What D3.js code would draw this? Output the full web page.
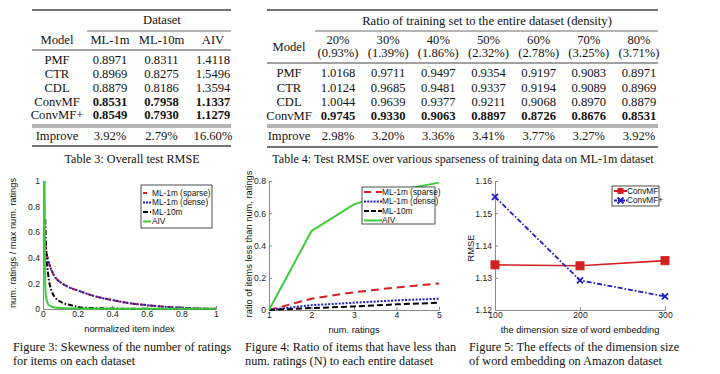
<!DOCTYPE html>
<html>
<head>
<meta charset="utf-8">
<script src="https://cdn.jsdelivr.net/npm/d3@7"></script>
<style>
  body { margin: 0; background: #fff; }
  svg { display: block; }
</style>
</head>
<body>
<div id="pg"></div>
<script>
"use strict"

// ---- table 3 data
var t3Models = ["PMF", "CTR", "CDL", "ConvMF", "ConvMF+"]
var t3Cols = ["ML-1m", "ML-10m", "AIV"]
var t3Values = [
    [0.8971, 0.8311, 1.4118],
    [0.8969, 0.8275, 1.5496],
    [0.8879, 0.8186, 1.3594],
    [0.8531, 0.7958, 1.1337],
    [0.8549, 0.7930, 1.1279]
]
var t3Improve = ["3.92%", "2.79%", "16.60%"]
var t3Bold = ["ConvMF", "ConvMF+"]

// ---- table 4 data
var t4Models = ["PMF", "CTR", "CDL", "ConvMF"]
var t4Ratio = ["20%", "30%", "40%", "50%", "60%", "70%", "80%"]
var t4Density = ["(0.93%)", "(1.39%)", "(1.86%)", "(2.32%)", "(2.78%)", "(3.25%)", "(3.71%)"]
var t4Values = [
    [1.0168, 0.9711, 0.9497, 0.9354, 0.9197, 0.9083, 0.8971],
    [1.0124, 0.9685, 0.9481, 0.9337, 0.9194, 0.9089, 0.8969],
    [1.0044, 0.9639, 0.9377, 0.9211, 0.9068, 0.8970, 0.8879],
    [0.9745, 0.9330, 0.9063, 0.8897, 0.8726, 0.8676, 0.8531]
]
var t4Improve = ["2.98%", "3.20%", "3.36%", "3.41%", "3.77%", "3.27%", "3.92%"]
var t4Bold = ["ConvMF"]

// ---- figure 3 data (normalized item index -> num. ratings / max)
var f3DenseX = [0.013, 0.02, 0.03, 0.05, 0.075, 0.1, 0.15, 0.2, 0.3, 0.4, 0.5, 0.6, 0.7, 0.8, 0.9, 1]
var f3DenseY = [0.51, 0.44, 0.38, 0.30, 0.24, 0.21, 0.17, 0.145, 0.10, 0.07, 0.045, 0.03, 0.018, 0.01, 0.004, 0.001]
var f3SparseX = f3DenseX
var f3SparseY = f3DenseY
var f3Ml10mX = [0.013, 0.019, 0.029, 0.048, 0.087, 0.164, 0.24, 0.4, 0.6, 1]
var f3Ml10mY = [0.70, 0.435, 0.28, 0.147, 0.068, 0.029, 0.01, 0.004, 0.001, 0]
var f3AivX = [0.009, 0.011, 0.013, 0.017, 0.025, 0.04, 0.08, 0.2, 0.5, 1]
var f3AivY = [1, 0.5, 0.2, 0.1, 0.05, 0.025, 0.01, 0.004, 0.002, 0.001]

// ---- figure 4 data
var f4X = [1, 2, 3, 4, 5]
var f4Sparse = [0, 0.07, 0.11, 0.14, 0.165]
var f4Dense = [0, 0.03, 0.045, 0.06, 0.07]
var f4Ml10m = [0, 0.012, 0.022, 0.035, 0.045]
var f4Aiv = [0, 0.49, 0.655, 0.74, 0.79]

// ---- figure 5 data
var f5X = [100, 200, 300]
var f5ConvMF = [1.1340, 1.1337, 1.1353]
var f5ConvMFplus = [1.1551, 1.1292, 1.1242]

var serif = "Liberation Serif, Times New Roman, serif"
var sans = "Liberation Sans, Arial, sans-serif"
var red = "#d42020", blue = "#1c1cc8", green = "#3ccc3c", black = "#000"

var svg = d3.select("#pg").append("svg")
    .attr("width", 720)
    .attr("height", 374)
svg.append("rect").attr("width", 720).attr("height", 374).attr("fill", "#fff")

function txt(g, x, y, s, opts) {
    opts = opts || {}
    return g.append("text")
        .attr("x", x).attr("y", y).attr("dy", "0.35em")
        .attr("text-anchor", opts.anchor || "middle")
        .attr("font-family", opts.family || serif)
        .attr("font-size", opts.size || 12.6)
        .attr("font-weight", opts.bold ? "bold" : "normal")
        .attr("fill", "#111")
        .text(s)
}

function rule(g, x0, x1, y, w) {
    g.append("line").attr("x1", x0).attr("x2", x1).attr("y1", y).attr("y2", y)
        .attr("stroke", "#444").attr("stroke-width", w || 1)
}

var fmt4 = d3.format(".4f")

/** Table 3 */
var t3 = svg.append("g")
var t3x = d3.scalePoint().domain(t3Cols).range([110, 213])
var t3y = d3.scalePoint().domain(t3Models).range([60, 115])
rule(t3, 32, 231, 10, 1.3)
txt(t3, 162, 20, "Dataset")
rule(t3, 87, 231, 31, 0.8)
txt(t3, 57, 40, "Model")
t3Cols.forEach(function (c) { txt(t3, t3x(c), 40, c) })
rule(t3, 32, 231, 50, 1.2)
t3Models.forEach(function (m, i) {
    txt(t3, 57, t3y(m), m)
    t3Cols.forEach(function (c, j) {
        txt(t3, t3x(c), t3y(m), fmt4(t3Values[i][j]), { bold: t3Bold.indexOf(m) >= 0 })
    })
})
rule(t3, 32, 231, 125, 0.8)
rule(t3, 32, 231, 127, 0.8)
txt(t3, 57, 136, "Improve")
t3Cols.forEach(function (c, j) { txt(t3, t3x(c), 136, t3Improve[j]) })
rule(t3, 32, 231, 146, 1.3)
txt(t3, 132, 159, "Table 3: Overall test RMSE", { size: 12.2 })

/** Table 4 */
var t4 = svg.append("g")
var t4x = d3.scalePoint().domain(t4Ratio).range([338, 639])
var t4y = d3.scalePoint().domain(t4Models).range([73, 116])
rule(t4, 267, 658, 10, 1.3)
txt(t4, 487, 21, "Ratio of training set to the entire dataset (density)")
rule(t4, 315, 658, 31, 0.8)
txt(t4, 289, 47, "Model")
t4Ratio.forEach(function (r, j) {
    txt(t4, t4x(r), 40, r)
    txt(t4, t4x(r), 53, t4Density[j])
})
rule(t4, 267, 658, 63, 1.2)
t4Models.forEach(function (m, i) {
    txt(t4, 289, t4y(m), m)
    t4Ratio.forEach(function (r, j) {
        txt(t4, t4x(r), t4y(m), fmt4(t4Values[i][j]), { bold: t4Bold.indexOf(m) >= 0 })
    })
})
rule(t4, 267, 658, 125, 0.8)
rule(t4, 267, 658, 127, 0.8)
txt(t4, 289, 136, "Improve")
t4Ratio.forEach(function (r, j) { txt(t4, t4x(r), 136, t4Improve[j]) })
rule(t4, 267, 658, 147, 1.3)
txt(t4, 463, 159, "Table 4: Test RMSE over various sparseness of training data on ML-1m dataset", { size: 12 })

/** charts */
function styleAxis(g) {
    g.select(".domain").attr("stroke", "#888").attr("stroke-width", 1)
    g.selectAll(".tick line").attr("stroke", "#888")
    g.selectAll(".tick text").attr("fill", "#222")
        .attr("font-family", sans).attr("font-size", 8.6)
}

function makeChart(c) {
    var g = svg.append("g")
    var x = d3.scaleLinear().domain(c.xdom).range([c.x0, c.x1])
    var y = d3.scaleLinear().domain(c.ydom).range([c.y0, c.y1])
    g.append("g").attr("transform", "translate(0," + c.y0 + ")")
        .call(d3.axisBottom(x).tickValues(c.xticks).tickFormat(c.xfmt)
            .tickSizeInner(-3).tickSizeOuter(0).tickPadding(2))
        .call(styleAxis)
    g.append("g").attr("transform", "translate(" + c.x0 + ",0)")
        .call(d3.axisLeft(y).tickValues(c.yticks).tickFormat(c.yfmt)
            .tickSizeInner(-3).tickSizeOuter(0).tickPadding(3))
        .call(styleAxis)
    txt(g, (c.x0 + c.x1) / 2, c.y0 + 20, c.xlabel, { family: sans, size: 9.3 })
    txt(g, 0, 0, c.ylabel, { family: sans, size: 9.3 })
        .attr("transform", "translate(" + c.ylx + "," + c.yly + ") rotate(-90)")
    c.caption.forEach(function (s, i) {
        txt(g, c.capx, 347 + i * 14, s, { anchor: "start", size: 12.3 })
    })
    return { g: g, x: x, y: y }
}

function drawLine(ch, xs, ys, color, dash, width, curve) {
    var line = d3.line()
        .x(function (d) { return ch.x(d[0]) })
        .y(function (d) { return ch.y(d[1]) })
        .curve(curve || d3.curveLinear)
    ch.g.append("path")
        .attr("d", line(d3.zip(xs, ys)))
        .attr("fill", "none")
        .attr("stroke", color)
        .attr("stroke-width", width || 2)
        .attr("stroke-dasharray", dash || null)
}

function legend(ch, box, items, textX, rows, sx0, sx1) {
    ch.g.append("rect").attr("x", box[0]).attr("y", box[1])
        .attr("width", box[2] - box[0]).attr("height", box[3] - box[1])
        .attr("fill", "#fff").attr("stroke", "#222").attr("stroke-width", 0.8)
    items.forEach(function (it, i) {
        ch.g.append("line").attr("x1", sx0).attr("x2", sx1)
            .attr("y1", rows[i]).attr("y2", rows[i])
            .attr("stroke", it.color).attr("stroke-width", 2)
            .attr("stroke-dasharray", it.dash || null)
        if (it.marker) it.marker(ch.g, (sx0 + sx1) / 2, rows[i])
        txt(ch.g, textX, rows[i], it.label, { anchor: "start", family: sans, size: 8.3 })
    })
}

var fmt1 = function (d) { return String(+d.toFixed(1)) }

// Figure 3
var c3 = makeChart({
    x0: 43, x1: 216, y0: 309, y1: 181,
    xdom: [0, 1], ydom: [0, 1],
    xticks: [0, 0.2, 0.4, 0.6, 0.8, 1], yticks: [0, 0.2, 0.4, 0.6, 0.8, 1],
    xfmt: fmt1, yfmt: fmt1,
    xlabel: "normalized item index", ylabel: "num. ratings / max num. ratings",
    ylx: 13, yly: 243,
    caption: ["Figure 3: Skewness of the number of ratings", "for items on each dataset"], capx: 13
})
drawLine(c3, f3SparseX, f3SparseY, red, "6,3", 2, d3.curveMonotoneX)
drawLine(c3, f3DenseX, f3DenseY, blue, "2,1.5", 2, d3.curveMonotoneX)
drawLine(c3, f3Ml10mX, f3Ml10mY, black, "5,2,1.5,2", 2, d3.curveMonotoneX)
drawLine(c3, f3AivX, f3AivY, green, null, 2, d3.curveMonotoneX)
legend(c3, [141, 185, 212, 228], [
    { label: "ML-1m (sparse)", color: red, dash: "4,10" },
    { label: "ML-1m (dense)", color: blue, dash: "2,1" },
    { label: "ML-10m", color: black, dash: "5,2" },
    { label: "AIV", color: green }
], 152, [193, 202.5, 212, 221.5], 143, 151)

// Figure 4
var c4 = makeChart({
    x0: 269, x1: 439, y0: 310, y1: 181,
    xdom: [1, 5], ydom: [0, 0.8],
    xticks: [1, 2, 3, 4, 5], yticks: [0, 0.2, 0.4, 0.6, 0.8],
    xfmt: d3.format("d"), yfmt: fmt1,
    xlabel: "num. ratings", ylabel: "ratio of items less than num. ratings",
    ylx: 249, yly: 244,
    caption: ["Figure 4: Ratio of items that have less than", "num. ratings (N) to each entire dataset"], capx: 245
})
drawLine(c4, f4X, f4Sparse, red, "8,5", 2)
drawLine(c4, f4X, f4Dense, blue, "2,1.5", 2)
drawLine(c4, f4X, f4Ml10m, black, "6,3", 2)
drawLine(c4, f4X, f4Aiv, green, null, 2)
legend(c4, [362, 187, 435, 224], [
    { label: "ML-1m (sparse)", color: red, dash: "7,5" },
    { label: "ML-1m (dense)", color: blue, dash: "2,1.2" },
    { label: "ML-10m", color: black, dash: "5,2" },
    { label: "AIV", color: green }
], 382, [192, 201.5, 211, 220.5], 364, 382)

// Figure 5
var c5 = makeChart({
    x0: 495, x1: 665, y0: 310, y1: 181,
    xdom: [100, 300], ydom: [1.12, 1.16],
    xticks: f5X, yticks: [1.12, 1.13, 1.14, 1.15, 1.16],
    xfmt: d3.format("d"), yfmt: d3.format(".2f"),
    xlabel: "the dimension size of word embedding", ylabel: "RMSE",
    ylx: 471, yly: 248,
    caption: ["Figure 5: The effects of the dimension size", "of word embedding on Amazon dataset"], capx: 469
})

function square(g, cx, cy) {
    g.append("rect").attr("x", cx - 4).attr("y", cy - 4).attr("width", 8).attr("height", 8)
        .attr("fill", red).attr("stroke", red).attr("stroke-width", 1)
}
function cross(g, cx, cy) {
    g.append("path")
        .attr("d", "M" + (cx - 3) + "," + (cy - 3) + "L" + (cx + 3) + "," + (cy + 3) +
            "M" + (cx - 3) + "," + (cy + 3) + "L" + (cx + 3) + "," + (cy - 3))
        .attr("stroke", blue).attr("stroke-width", 1.8).attr("fill", "none")
}

drawLine(c5, f5X, f5ConvMF, red, null, 1.6)
drawLine(c5, f5X, f5ConvMFplus, blue, "5,2,1.5,2", 1.8)
f5X.forEach(function (v, i) {
    square(c5.g, c5.x(v), c5.y(f5ConvMF[i]))
    cross(c5.g, c5.x(v), c5.y(f5ConvMFplus[i]))
})
legend(c5, [612, 186, 659, 206], [
    { label: "ConvMF", color: red, marker: function (g, x, y) { g.append("rect").attr("x", x - 3).attr("y", y - 3).attr("width", 6).attr("height", 6).attr("fill", red) } },
    { label: "ConvMF+", color: blue, dash: "3,1", marker: function (g, x, y) { cross(g, x, y) } }
], 627, [191, 200.5], 614, 627)
</script>
</body>
</html>
